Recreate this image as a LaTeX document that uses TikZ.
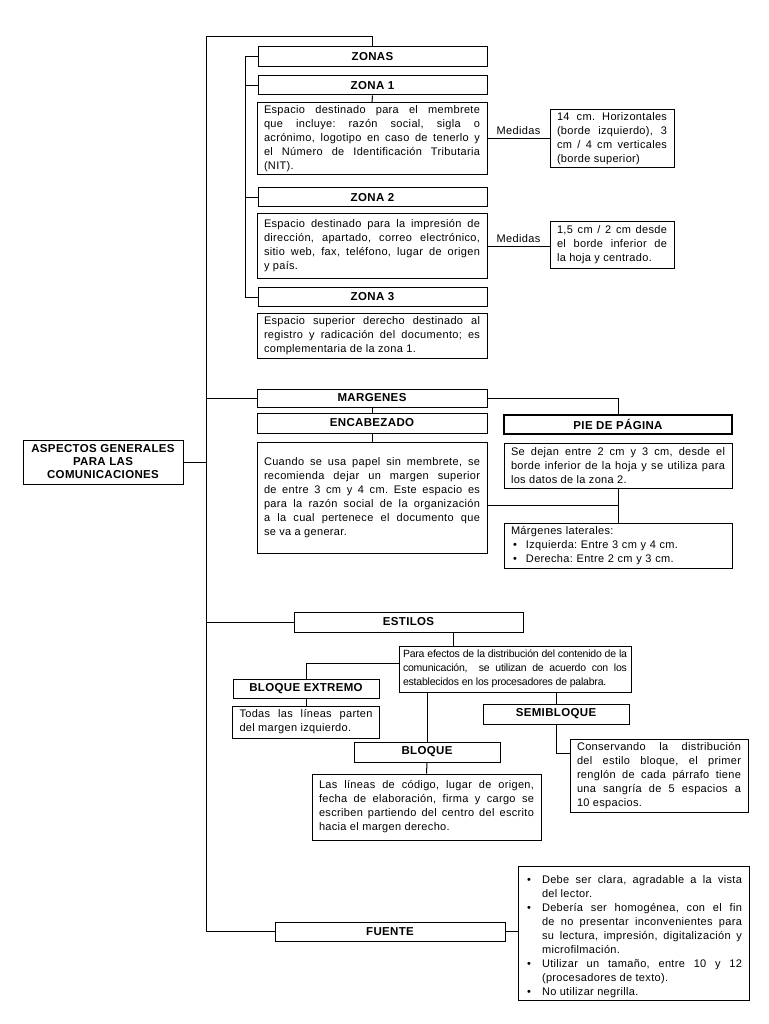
\documentclass[tikz,border=0pt]{standalone}
\usepackage{fontspec}
\setmainfont{Liberation Sans}
\setlength{\parindent}{0pt}
\frenchspacing

\newcommand{\bul}[1]{\par\hangindent=#1\hangafter=1\noindent\makebox[#1][l]{\hspace{2pt}\textbullet}}

\begin{document}
\begin{tikzpicture}[x=1pt, y=-1pt, line width=1pt,
    titbox/.style={draw, font=\bfseries\fontsize{11.5}{13}\selectfont\addfontfeature{LetterSpace=3}, align=center, inner sep=0pt, minimum width=#1},
    txtbox/.style={draw, align=justify, inner xsep=7pt, inner ysep=3pt, text width=#1, font=\fontsize{11}{14}\selectfont\addfontfeature{LetterSpace=3}}]
    \useasboundingbox (0,0) rectangle (768,1024);

    \node[titbox=160pt, minimum height=44pt] at (103,462) (main) {ASPECTOS GENERALES\\PARA LAS\\COMUNICACIONES};

    \node[titbox=229pt, minimum height=20pt] at (372.5,57) (zonas) {ZONAS};
    \node[titbox=229pt, minimum height=19pt] at (372.5,85.5) (zona1) {ZONA 1};
    \node[txtbox=216pt, minimum height=71pt] at (372,138.5) (zonatxt1) {Espacio destinado para el membrete\linebreak que incluye: razón social, sigla o\linebreak acrónimo, logotipo en caso de tenerlo y\linebreak el Número de Identificación Tributaria\linebreak (NIT).};
    \node[txtbox=110pt, minimum height=57pt] at (612,138.5) (medida1) {14 cm. Horizontales\linebreak (borde izquierdo), 3\linebreak cm / 4 cm verticales\linebreak (borde superior)};
    \node[titbox=229pt, minimum height=19pt] at (372.5,197.5) (zona2) {ZONA 2};
    \node[txtbox=216pt, minimum height=64pt] at (372,246) (zonatxt2) {Espacio destinado para la impresión de\linebreak dirección, apartado, correo electrónico,\linebreak sitio web, fax, teléfono, lugar de origen\linebreak y país.};
    \node[txtbox=110pt, minimum height=46pt] at (612,245) (medida2) {1,5 cm / 2 cm desde\linebreak el borde inferior de\linebreak la hoja y centrado.};
    \node[titbox=229pt, minimum height=19pt] at (372.5,297) (zona3) {ZONA 3};
    \node[txtbox=216pt, minimum height=45pt] at (372,335.5) (zonatxt3) {Espacio superior derecho destinado al\linebreak registro y radicación del documento; es\linebreak complementaria de la zona 1.};

    \node[titbox=230pt, minimum height=18pt] at (372,398) (margenes) {MARGENES};
    \node[titbox=230pt, minimum height=20pt] at (372,423) (encab) {ENCABEZADO};
    \node[txtbox=216pt, minimum height=111pt] at (372,497.5) (encabtxt) {Cuando se usa papel sin membrete, se\linebreak recomienda dejar un margen superior\linebreak de entre 3 cm y 4 cm. Este espacio es\linebreak para la razón social de la organización\linebreak a la cual pertenece el documento que\linebreak se va a generar.};
    \node[titbox=228pt, minimum height=19pt, line width=1.8pt] at (618,424.5) (pie) {PIE DE PÁGINA};
    \node[txtbox=214pt, minimum height=45pt] at (618,465.5) (pietxt) {Se dejan entre 2 cm y 3 cm, desde el\linebreak borde inferior de la hoja y se utiliza para\linebreak los datos de la zona 2.};
    \node[txtbox=214pt, minimum height=45pt, align=left] at (618,545.5) (laterales) {Márgenes laterales:\bul{15pt}Izquierda: Entre 3 cm y 4 cm.\bul{15pt}Derecha: Entre 2 cm y 3 cm.};

    \node[titbox=229pt, minimum height=20pt] at (408.5,622) (estilos) {ESTILOS};
    \node[txtbox=224pt, minimum height=46pt, inner xsep=4pt, font=\fontsize{10.5}{14}\selectfont\addfontfeature{LetterSpace=-2}] at (515,669) (efectos) {Para efectos de la distribución del contenido de la\linebreak comunicación, \ se utilizan de acuerdo con los\linebreak establecidos en los procesadores de palabra.};
    \node[titbox=146pt, minimum height=19pt] at (306,688.5) (bextremo) {BLOQUE EXTREMO};
    \node[txtbox=133pt, minimum height=32pt] at (306,722) (todas) {Todas las líneas parten\linebreak del margen izquierdo.};
    \node[titbox=146pt, minimum height=20pt] at (556,714) (semibloque) {SEMIBLOQUE};
    \node[txtbox=164pt, minimum height=72pt] at (659,776) (conserva) {Conservando la distribución\linebreak del estilo bloque, el primer\linebreak renglón de cada párrafo tiene\linebreak una sangría de 5 espacios a\linebreak 10 espacios.};
    \node[titbox=146pt, minimum height=20pt] at (427,752) (bloque) {BLOQUE};
    \node[txtbox=215pt, minimum height=66pt] at (426.5,807) (lineas) {Las líneas de código, lugar de origen,\linebreak fecha de elaboración, firma y cargo se\linebreak escriben partiendo del centro del escrito\linebreak hacia el margen derecho.};

    \node[titbox=230pt, minimum height=19pt] at (390,931.5) (fuente) {FUENTE};
    \node[txtbox=217pt, minimum height=129pt] at (633.5,933.5) (normas) {\bul{17pt}Debe ser clara, agradable a la vista\linebreak del lector.\bul{17pt}Debería ser homogénea, con el fin\linebreak de no presentar inconvenientes para\linebreak su lectura, impresión, digitalización y\linebreak microfilmación.\bul{17pt}Utilizar un tamaño, entre 10 y 12\linebreak (procesadores de texto).\bul{17pt}No utilizar negrilla.};

    \coordinate (tronco) at (206,37);
    \draw (zonas.north) |- (tronco) |- (fuente.west);
    \draw (main.east) -- (main.east -| tronco);
    \draw (margenes.west) -- (margenes.west -| tronco);
    \draw (estilos.west) -- (estilos.west -| tronco);

    \draw (zonas.west) -- ++(-12,0) |- (zona3.west);
    \draw (zona1.west) -- ++(-12,0);
    \draw (zona2.west) -- ++(-12,0);
    \draw (zona1.south) -- (zonatxt1.north);
    \draw (zonatxt1.east) -- node[above, font=\fontsize{11}{14}\selectfont\addfontfeature{LetterSpace=3}] {Medidas} (medida1.west);
    \draw (zonatxt2.east) -- node[above, font=\fontsize{11}{14}\selectfont\addfontfeature{LetterSpace=3}] {Medidas} (zonatxt2.east -| medida2.west);

    \draw (margenes.south) -- (encab.north);
    \draw (encab.south) -- (encabtxt.north);
    \draw (margenes.east) -| (pie.north);
    \draw (pietxt.south) -- (laterales.north);
    \draw ([yshift=-8pt]encabtxt.east) -- ([yshift=-8pt]encabtxt.east -| laterales.north);

    \draw ([xshift=45pt]estilos.south) -- ([xshift=45pt]estilos.south |- efectos.north);
    \draw ([yshift=6pt]efectos.west) -| (bextremo.north);
    \draw (bextremo.south) -- (todas.north);
    \draw (bloque.north) -- (bloque.north |- efectos.south);
    \draw (bloque.south) -- (lineas.north);
    \draw (semibloque.north) -- (semibloque.north |- efectos.south);
    \draw (semibloque.south) |- ([yshift=23pt]conserva.west);

    \draw (fuente.east) -- (fuente.east -| normas.west);
\end{tikzpicture}
\end{document}
